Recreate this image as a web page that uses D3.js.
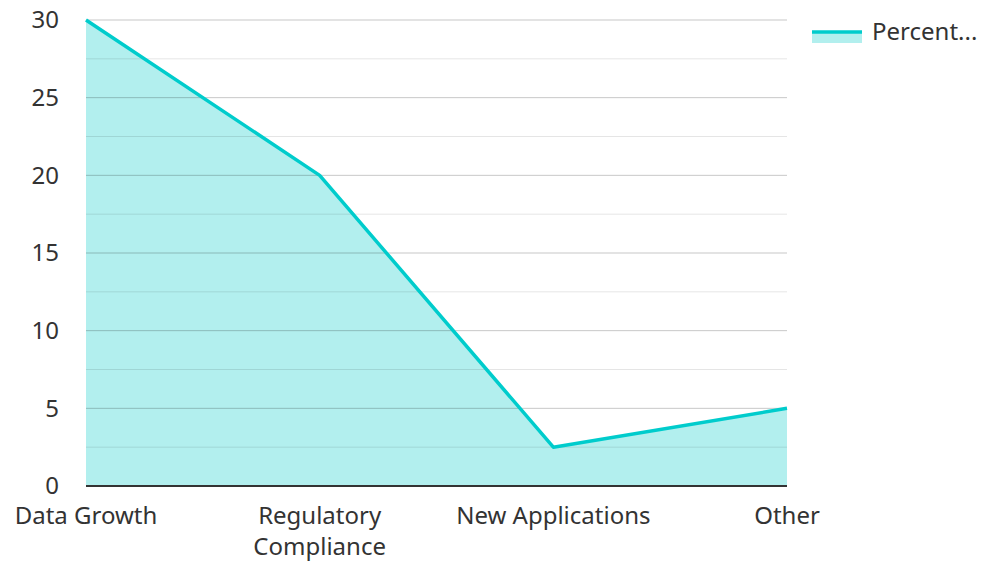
<!DOCTYPE html>
<html>
<head>
<meta charset="utf-8">
<script src="https://cdn.jsdelivr.net/npm/d3@7"></script>
<style>
  body { margin: 0; background: #fff; }
  text { font-family: "Noto Sans", "Open Sans", sans-serif; fill: #333; }
</style>
</head>
<body>
<svg id="chart" width="982" height="562"></svg>
<script>
//-- data --//
var categories = ["Data Growth", "Regulatory Compliance", "New Applications", "Other"];
var catLines   = [["Data Growth"], ["Regulatory", "Compliance"], ["New Applications"], ["Other"]];
var percent    = [30, 20, 2.5, 5];
var yTicks     = [0, 5, 10, 15, 20, 25, 30];
var minorTicks = [2.5, 7.5, 12.5, 17.5, 22.5, 27.5];
var seriesName = "Percent...";
//-- data --//

var svg = d3.select("#chart"),
    margin = {top: 20, left: 86, bottom: 76, right: 195},
    width = +svg.attr("width"),
    height = +svg.attr("height");

var x = d3.scalePoint()
    .domain(categories)
    .range([margin.left, width - margin.right]);

var y = d3.scaleLinear()
    .domain([0, 30])
    .range([height - margin.bottom, margin.top]);

var lineColor = "#00cccc",
    fillColor = "#b2efee";

//-- area + line --//
var area = d3.area()
    .x((d, i) => x(categories[i]))
    .y0(y(0))
    .y1(d => y(d));

var line = d3.line()
    .x((d, i) => x(categories[i]))
    .y(d => y(d));

svg.append("path")
    .datum(percent)
    .attr("fill", fillColor)
    .attr("d", area);

//-- grid --//
svg.append("g").selectAll("line")
    .data(minorTicks)
    .enter().append("line")
    .attr("x1", margin.left).attr("x2", width - margin.right)
    .attr("y1", d => y(d)).attr("y2", d => y(d))
    .attr("stroke", "#000")
    .attr("stroke-opacity", 0.1)
    .attr("stroke-width", 1);

svg.append("g").selectAll("line")
    .data(yTicks.filter(d => d > 0))
    .enter().append("line")
    .attr("x1", margin.left).attr("x2", width - margin.right)
    .attr("y1", d => y(d)).attr("y2", d => y(d))
    .attr("stroke", "#000")
    .attr("stroke-opacity", 0.22)
    .attr("stroke-width", 1);

svg.append("path")
    .datum(percent)
    .attr("fill", "none")
    .attr("stroke", lineColor)
    .attr("stroke-width", 3.5)
    .attr("stroke-linejoin", "round")
    .attr("d", line);

//-- y axis labels --//
svg.append("g").selectAll("text")
    .data(yTicks)
    .enter().append("text")
    .attr("x", margin.left - 27)
    .attr("y", d => y(d))
    .attr("dy", "0.35em")
    .attr("text-anchor", "end")
    .style("font-size", "24px")
    .text(d => d);

//-- x axis --//
svg.append("line")
    .attr("x1", margin.left).attr("x2", width - margin.right)
    .attr("y1", y(0)).attr("y2", y(0))
    .attr("stroke", "#333")
    .attr("stroke-width", 2);

var xl = svg.append("g").selectAll("text")
    .data(categories)
    .enter().append("text")
    .attr("text-anchor", "middle")
    .attr("x", d => x(d))
    .attr("y", y(0) + 38)
    .style("font-size", "24px");

xl.selectAll("tspan")
    .data((d, i) => catLines[i])
    .enter().append("tspan")
    .attr("x", function() { return d3.select(this.parentNode).attr("x"); })
    .attr("dy", (d, i) => i ? 31 : 0)
    .text(d => d);

//-- legend --//
var lg = svg.append("g").attr("transform", "translate(812,32)");
lg.append("rect")
    .attr("x", 0).attr("y", 0)
    .attr("width", 50).attr("height", 11)
    .attr("fill", fillColor);
lg.append("line")
    .attr("x1", 0).attr("x2", 50)
    .attr("y1", 0).attr("y2", 0)
    .attr("stroke", lineColor)
    .attr("stroke-width", 3.5);
lg.append("text")
    .attr("x", 60)
    .attr("y", 0)
    .attr("dy", "0.35em")
    .style("font-size", "24px")
    .text(seriesName);
</script>
</body>
</html>
